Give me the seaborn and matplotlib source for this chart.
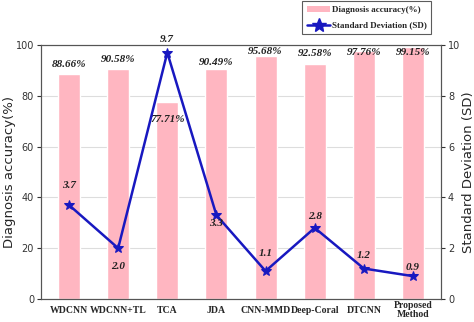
import matplotlib
matplotlib.use("Agg")
import matplotlib.pyplot as plt
import seaborn as sns
import pandas as pd
from matplotlib.patches import Patch
from matplotlib.lines import Line2D

methods = ["WDCNN", "WDCNN+TL", "TCA", "JDA", "CNN-MMD", "Deep-Coral", "DTCNN", "Proposed\nMethod"]
accuracy = [88.66, 90.58, 77.71, 90.49, 95.68, 92.58, 97.76, 99.15]
acc_labels = ["88.66%", "90.58%", "77.71%", "90.49%", "95.68%", "92.58%", "97.76%", "99.15%"]
sd = [3.7, 2.0, 9.7, 3.3, 1.1, 2.8, 1.2, 0.9]
sd_labels = ["3.7", "2.0", "9.7", "3.3", "1.1", "2.8", "1.2", "0.9"]

# label offsets (pixels) - styling only
acc_off = [9, 9, -18, 7, 4, 10, -2, -5]
sd_off = [20, -18, 13, -8, 18, 11, 13, 9]

sns.set_style("white")
plt.rcParams["font.family"] = ["DejaVu Sans"]

fig = plt.figure(figsize=(4.74, 3.22), dpi=100)
ax = fig.add_axes([41/474, 1-299/322, 400/474, 254/322])

df = pd.DataFrame({"method": methods, "acc": accuracy, "idx": range(len(methods)), "sd": sd})

sns.barplot(data=df, x="method", y="acc", color="#FFB6C1", saturation=1, width=0.45, ax=ax, zorder=2)
ax.set_ylim(0, 100)
ax.set_yticks([0, 20, 40, 60, 80, 100])
ax.set_xlim(-0.57, 7.57)
ax.yaxis.grid(True, color="#dddddd", linewidth=0.8, zorder=0)
ax.set_axisbelow(True)
ax.set_xlabel("")
ax.set_ylabel("Diagnosis accuracy(%)", fontsize=9.5)
ax.yaxis.set_label_coords(-25/400, 0.5)
ax.tick_params(axis="y", labelsize=7, length=3, pad=2, colors="#333333")
ax.tick_params(axis="x", length=0, pad=8)
for lab in ax.get_xticklabels():
    lab.set_fontfamily("Liberation Serif")
    lab.set_fontweight("bold")
    lab.set_fontsize(7)
    lab.set_linespacing(1.0)
    lab.set_verticalalignment("center")

for i, (v, t) in enumerate(zip(accuracy, acc_labels)):
    ax.annotate(t, (i, v), xytext=(0, acc_off[i]), textcoords="offset pixels",
                ha="center", va="center", fontsize=8, fontfamily="Liberation Serif",
                fontweight="bold", fontstyle="italic", color="#222222", zorder=5)

ax2 = ax.twinx()
sns.lineplot(data=df, x="idx", y="sd", ax=ax2, color="#1818C0", linewidth=1.8,
             marker="*", markersize=7, markeredgecolor="#1818C0", zorder=4)
ax2.set_ylim(0, 10)
ax2.set_yticks([0, 2, 4, 6, 8, 10])
ax2.set_xlim(-0.57, 7.57)
ax2.set_ylabel("Standard Deviation (SD)", fontsize=9.5)
ax2.yaxis.set_label_coords(421/400, 0.5)
ax2.tick_params(axis="y", labelsize=7, length=3, pad=2, colors="#333333")
ax2.set_xlabel("")

for i, (v, t) in enumerate(zip(sd, sd_labels)):
    ax2.annotate(t, (i, v), xytext=(0, sd_off[i]), textcoords="offset pixels",
                 ha="center", va="center", fontsize=8, fontfamily="Liberation Serif",
                 fontweight="bold", fontstyle="italic", color="#222222", zorder=5)

for a in (ax, ax2):
    for s in a.spines.values():
        s.set_color("#555555")
        s.set_linewidth(0.8)

handles = [Patch(facecolor="#FFB6C1", edgecolor="none", label="Diagnosis accuracy(%)"),
           Line2D([0], [0], color="#1818C0", linewidth=1.8, marker="*", markersize=10,
                  label="Standard Deviation (SD)")]
leg = fig.legend(handles=handles, loc="upper right", bbox_to_anchor=(436/474, 1.01),
                 frameon=True, fancybox=False, edgecolor="#333333",
                 prop={"family": "Liberation Serif", "weight": "bold", "size": 6.5},
                 handlelength=2.6, handletextpad=0.2, borderpad=0.5, labelspacing=0.8)
leg.get_frame().set_linewidth(0.8)

fig.savefig("out.png", dpi=100)
